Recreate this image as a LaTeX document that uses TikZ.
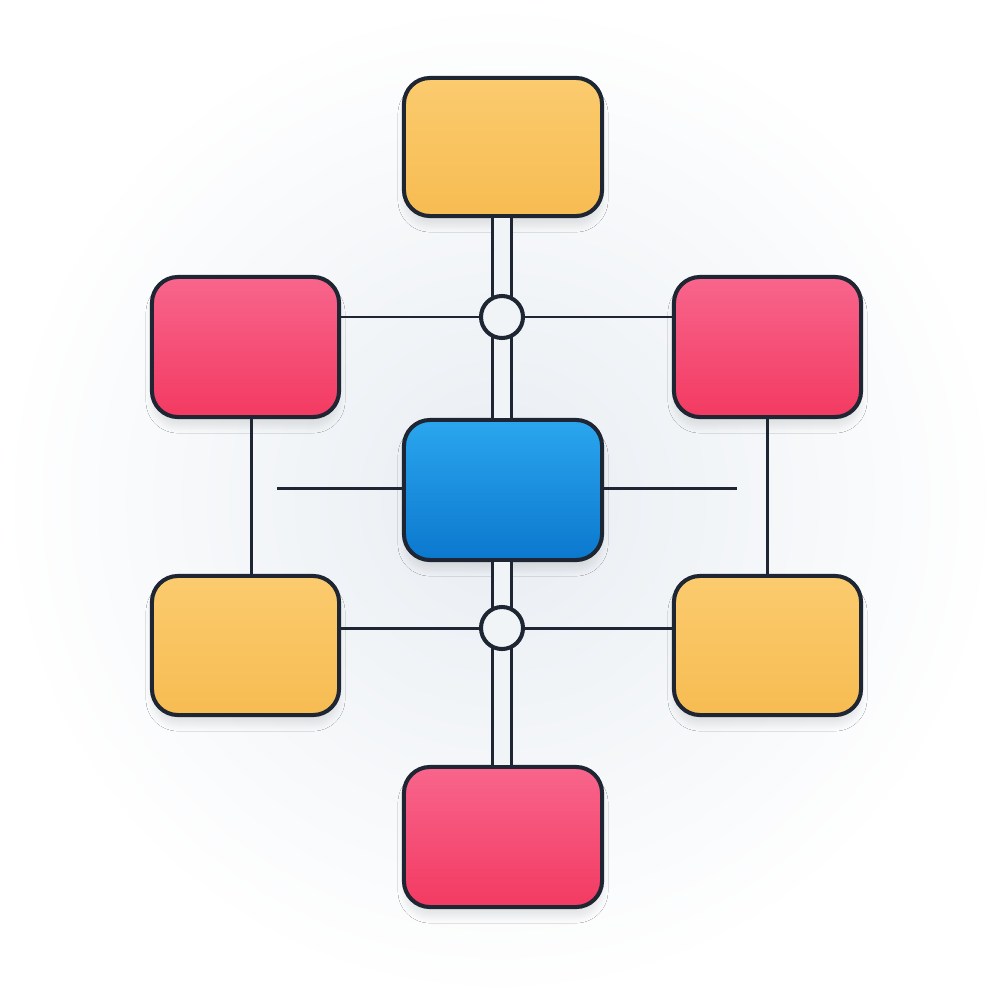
\documentclass[tikz,border=0pt]{standalone}
\usepackage{amsmath}
\usetikzlibrary{calc,shadows.blur}

\definecolor{outline}{HTML}{1F2633}
\definecolor{bgmid}{HTML}{E8EDF2}
\definecolor{yeltop}{HTML}{FBCB6E}
\definecolor{yelbot}{HTML}{F7BC52}
\definecolor{pinktop}{HTML}{F8658C}
\definecolor{pinkbot}{HTML}{F33A62}
\definecolor{bluetop}{HTML}{2BA6EE}
\definecolor{bluebot}{HTML}{0B78CE}

\tikzset{
  box/.style={draw=outline,line width=1.15pt,rounded corners=2.6mm,
    minimum width=1.98cm,minimum height=1.38cm,inner sep=0pt,
    blur shadow={shadow blur steps=8,shadow xshift=0pt,shadow yshift=-1mm,
      shadow opacity=9,shadow blur extra rounding=2mm}},
  sidebox/.style={box,minimum width=1.87cm,minimum height=1.4cm},
  yel/.style={top color=yeltop,bottom color=yelbot},
  pink/.style={top color=pinktop,bottom color=pinkbot},
  blu/.style={top color=bluetop,bottom color=bluebot},
  hub/.style={circle,draw=outline,line width=1.15pt,fill=bgmid!60!white,
    minimum size=0.42cm,inner sep=0pt},
  wire/.style={draw=outline,line width=0.85pt},
  bus/.style={draw=outline,line width=0.85pt,double=bgmid!60!white,double distance=1.6mm}
}

\begin{document}
\begin{tikzpicture}[x=0.01cm,y=-0.01cm]
    \useasboundingbox (0,0) rectangle (1000,1000);
    \shade[inner color=bgmid,outer color=white] (0,0) rectangle (1000,1000);

    \node[box,yel] at (503,147) (Top) {};
    \node[sidebox,pink] at (245.5,347) (LPink) {};
    \node[sidebox,pink] at (767.5,347) (RPink) {};
    \node[box,blu,minimum height=1.4cm] at (503,490) (Center) {};
    \node[sidebox,yel,minimum height=1.39cm] at (245.5,645.5) (LYel) {};
    \node[sidebox,yel,minimum height=1.39cm] at (767.5,645.5) (RYel) {};
    \node[box,pink,minimum height=1.4cm] at (503,837) (Bottom) {};

    \coordinate (HubA) at (502,317);
    \coordinate (HubB) at (502,628);
    \coordinate (LEnd) at (277,488);
    \coordinate (REnd) at (737,488);

    % buses through the hubs
    \draw[bus] (HubA |- Top.south) -- (HubA);
    \draw[bus] (HubA) -- (HubA |- Center.north);
    \draw[bus] (HubB |- Center.south) -- (HubB);
    \draw[bus] (HubB) -- (HubB |- Bottom.north);

    \draw[wire] (HubA -| LPink.east) -- (HubA) -- (HubA -| RPink.west);
    \draw[wire] (HubB -| LYel.east) -- (HubB) -- (HubB -| RYel.west);
    \draw[wire] ([xshift=0.055cm]LPink.south) -- ([xshift=0.055cm]LYel.north);
    \draw[wire] (RPink.south) -- (RYel.north);
    \draw[wire] (LEnd) -- (LEnd -| Center.west);
    \draw[wire] (REnd -| Center.east) -- (REnd);

    \node[hub] at (HubA) (HA) {};
    \node[hub] at (HubB) (HB) {};
\end{tikzpicture}
\end{document}
